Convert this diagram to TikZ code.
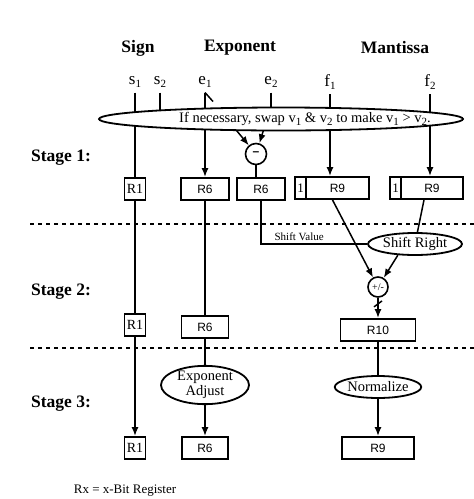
\documentclass[tikz,border=0pt]{standalone}
\usepackage{fontspec}
\setmainfont{Liberation Serif}
\setsansfont{Liberation Sans}
\usetikzlibrary{arrows, arrows.meta, shapes, positioning}

\newcommand{\lowidx}[1]{\raisebox{-0.45ex}{\fontsize{11}{11}\selectfont #1}}

\begin{document}
\begin{tikzpicture}[x=1pt, y=-1pt, line width=1.5pt, >={Latex[length=9pt,width=7pt]},
    head/.style={font=\fontsize{17.5}{19}\selectfont\bfseries},
    inp/.style={font=\fontsize{17}{17}\selectfont, inner xsep=1pt, inner ysep=4pt},
    reg/.style={draw, line width=1.9pt, minimum height=22pt, inner sep=0pt,
                font=\sffamily\fontsize{12}{12}\selectfont},
    sreg/.style={reg, minimum width=21pt, font=\fontsize{14}{14}\selectfont},
    cell/.style={reg, minimum width=11pt, font=\fontsize{13}{13}\selectfont},
    op/.style={draw, ellipse, line width=1.8pt, inner sep=0pt, align=center,
               font=\fontsize{14.5}{14.5}\selectfont},
    alu/.style={draw, circle, line width=1.6pt, inner sep=0pt, minimum size=21pt},
    sep/.style={line width=1.9pt, dash pattern=on 4pt off 4pt}]

  \useasboundingbox (0,0) rectangle (474,499);

  % Nodes
  \node[head] (sign) at (138,48) {Sign};
  \node[head] (expo) at (240,48) {Exponent};
  \node[head] (mant) at (395,48) {Mantissa};

  \node[head, anchor=west] (st1) at (27,158) {Stage 1:};
  \node[head, anchor=west] (st2) at (27,292) {Stage 2:};
  \node[head, anchor=west] (st3) at (27,404) {Stage 3:};

  \node[inp] (s1) at (135,82) {s\lowidx{1}};
  \node[inp] (s2) at (160,82) {s\lowidx{2}};
  \node[inp] (e1) at (205,82) {e\lowidx{1}};
  \node[inp] (e2) at (271,82) {e\lowidx{2}};
  \node[inp] (f1) at (330,82) {f\lowidx{1}};
  \node[inp] (f2) at (430,82) {f\lowidx{2}};

  \coordinate (swapc) at (281,119);
  \coordinate (ea) at (227,119);
  \coordinate (eb) at (267,119);

  % stage 1
  \node[sreg] (r1a) at (135,189) {R1};
  \node[reg, minimum width=48pt] (r6a) at (205,189) {R6};
  \node[alu] (sub) at (256,154) {\sffamily\bfseries\fontsize{12}{12}\selectfont --};
  \node[reg, minimum width=48pt] (r6b) at (261,189) {R6};
  \node[cell] (ca) at (300.5,188) {1};
  \node[reg, minimum width=63pt] (r9a) at (337.5,188) {R9};
  \node[cell] (cb) at (395.5,188) {1};
  \node[reg, minimum width=62pt] (r9b) at (432,188) {R9};

  % stage 2
  \node[op, minimum width=94pt, minimum height=22pt] (shr) at (415,244) {Shift Right};
  \node[alu, minimum size=20pt] (addsub) at (378,287) {\fontsize{10}{10}\selectfont +/-};
  \node[sreg] (r1b) at (135,325) {R1};
  \node[reg, minimum width=47pt] (r6c) at (205,327) {R6};
  \node[reg, minimum width=75pt] (r10) at (378,330) {R10};

  % stage 3
  \node[op, minimum width=88pt, minimum height=36pt] (adj) at (205,385) {Exponent\\Adjust};
  \node[op, minimum width=85pt, minimum height=22pt] (norm) at (378,387) {Normalize};
  \node[sreg] (r1c) at (135,448) {R1};
  \node[reg, minimum width=46pt] (r6d) at (205,448) {R6};
  \node[reg, minimum width=72pt] (r9c) at (378,448) {R9};

  \node[font=\fontsize{13}{13}\selectfont] (note) at (125,491) {Rx = x-Bit Register};

  % Edges (under the swap ellipse)
  \draw (s1.south) -- (s1.south |- swapc)
        (s2.south) -- (s2.south |- swapc)
        (e1.south) -- (e1.south |- swapc)
        (e2.south) -- (e2.south |- swapc)
        (f1.south) -- (f1.south |- swapc)
        (f2.south) -- (f2.south |- swapc);
  \draw (e1.south) -- ++(8,9);

  \draw (s1 |- swapc) -- (r1a);
  \path[->] (e1 |- swapc) edge (r6a.north -| e1)
            (ea) edge (sub)
            (eb) edge (sub)
            (f1 |- swapc) edge (r9a.north -| f1)
            (f2 |- swapc) edge (r9b.north -| f2);

  \node[draw, ellipse, fill=white, line width=1.8pt, minimum width=364pt,
        minimum height=23pt] (swap) at (swapc) {};
  \node[font=\fontsize{14.5}{14.5}\selectfont] (swaptxt) at (305,119)
       {If necessary, swap v\lowidx{1} \& v\lowidx{2} to make v\lowidx{1} > v\lowidx{2}.};

  % Edges
  \draw (r1a) -- (r1b);
  \draw[->] (r1b) -- (r1c);

  \draw (r6a) -- (r6c);
  \draw (r6c) -- (adj);
  \draw[->] (adj) -- (r6d);

  \draw (sub) -- (sub |- r6b.north);
  \draw (r6b.south) |- (shr.west)
        node[pos=0.68, above=-1pt, font=\fontsize{11}{11}\selectfont] (shv) {Shift Value};

  \path[->] ([xshift=-5pt]r9a.south) edge (addsub)
            (shr.213) edge (addsub);
  \draw ([xshift=-8pt]r9b.south) -- (shr);

  \draw[->] (addsub) -- (r10);
  \path (addsub.south) -- (r10.north) coordinate[pos=0.3] (bus);
  \draw ([shift={(-4,3)}]bus) -- ([shift={(4,-3)}]bus);
  \draw (r10) -- (norm);
  \draw[->] (norm) -- (r9c);

  % Stage borders
  \draw[sep] (30,224) -- (474,224);
  \draw[sep] (30,348) -- (474,348);

\end{tikzpicture}
\end{document}
